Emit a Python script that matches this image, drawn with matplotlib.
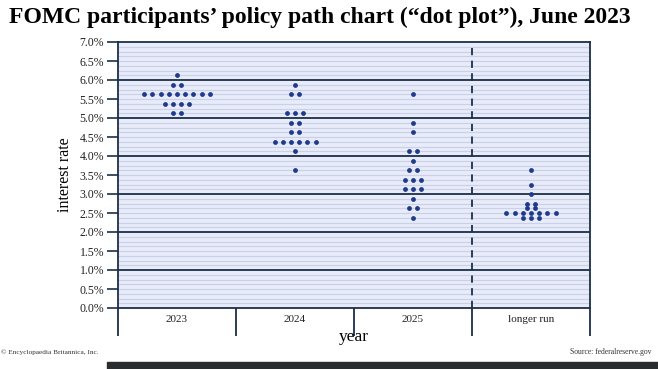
import numpy as np
import matplotlib
matplotlib.use("Agg")
import matplotlib.pyplot as plt
from matplotlib.patches import Rectangle

# dot plot data: one list of (rate, count) per column
categories = ["2023", "2024", "2025", "longer run"]
rates_2023 = [6.125, 5.875, 5.625, 5.375, 5.125]
counts_2023 = [1, 2, 9, 4, 2]
rates_2024 = [5.875, 5.625, 5.125, 4.875, 4.625, 4.375, 4.125, 3.625]
counts_2024 = [1, 2, 3, 2, 2, 6, 1, 1]
rates_2025 = [5.625, 4.875, 4.625, 4.125, 3.875, 3.625, 3.375, 3.125, 2.875, 2.625, 2.375]
counts_2025 = [1, 1, 1, 2, 1, 2, 3, 3, 1, 2, 1]
rates_lr = [3.625, 3.25, 3.0, 2.75, 2.625, 2.5, 2.375]
counts_lr = [1, 1, 1, 2, 2, 7, 3]
ytick_vals = np.arange(0, 7.01, 0.5)

columns = [(rates_2023, counts_2023), (rates_2024, counts_2024),
           (rates_2025, counts_2025), (rates_lr, counts_lr)]

navy = "#1c2f48"
dot_color = "#1f3a8a"
bg = "#e8ecfa"
minor_c = "#cad1e6"
serif = "Liberation Serif"

fig = plt.figure(figsize=(6.58, 3.69), dpi=100)
ax = fig.add_axes([118 / 658, 1 - 308 / 369, 472 / 658, 266 / 369])
ax.set_facecolor(bg)
ax.set_xlim(0, 4)
ax.set_ylim(0, 7)

# light lines every 1/8 percent, dark lines every whole percent
for y in np.arange(0.125, 7, 0.125):
    if abs(y - round(y)) < 1e-9:
        ax.axhline(y, color=navy, lw=1.3, zorder=1)
    else:
        ax.axhline(y, color=minor_c, lw=0.9, zorder=1)
ax.axvline(3, color=navy, lw=1.3, dashes=(4, 3), zorder=2)

# dots, centred in each column
step = 8.2 / 118
for i, (rates, counts) in enumerate(columns):
    for r, n in zip(rates, counts):
        xs = i + 0.5 + (np.arange(n) - (n - 1) / 2) * step
        ax.scatter(xs, [r] * n, s=12, color=dot_color, zorder=3, linewidths=0)

for sp in ax.spines.values():
    sp.set_color(navy)
    sp.set_linewidth(1.3)

ax.set_yticks(ytick_vals)
ax.set_yticklabels([f"{v:.1f}%" for v in ytick_vals], fontfamily=serif, fontsize=8.5)
ax.tick_params(axis="y", length=8, width=1.2, color=navy, pad=2, labelcolor="#222222")

ax.set_xticks([0, 1, 2, 3, 4])
ax.set_xticklabels([])
ax.set_xticks([0.5, 1.5, 2.5, 3.5], minor=True)
ax.set_xticklabels(categories, minor=True, fontfamily=serif, fontsize=8, color="#222222")
ax.tick_params(axis="x", which="major", length=20, width=1.3, color=navy)
ax.tick_params(axis="x", which="minor", length=0, pad=5)

ax.set_ylabel("interest rate", fontfamily=serif, fontsize=11.5, labelpad=5)
fig.text(354 / 658, 1 - 337 / 369, "year", ha="center", va="center",
         fontfamily=serif, fontsize=12.5)

fig.text(9 / 658, 1 - 17 / 369,
         "FOMC participants\u2019 policy path chart (\u201cdot plot\u201d), June 2023",
         ha="left", va="center", fontfamily=serif, fontweight="bold", fontsize=17)
fig.text(1 / 658, 1 - 352 / 369, "\u00a9 Encyclopaedia Britannica, Inc.",
         ha="left", va="center", fontfamily=serif, fontsize=5.2, color="#333333")
fig.text(651 / 658, 1 - 352 / 369, "Source: federalreserve.gov",
         ha="right", va="center", fontfamily=serif, fontsize=5.5, color="#333333")

# dark strip along the bottom edge of the screenshot
fig.patches.append(Rectangle((107 / 658, 0), 1, 7 / 369, transform=fig.transFigure,
                             color="#2a2d30", zorder=0))

fig.savefig("out.png", dpi=100, facecolor="white")
